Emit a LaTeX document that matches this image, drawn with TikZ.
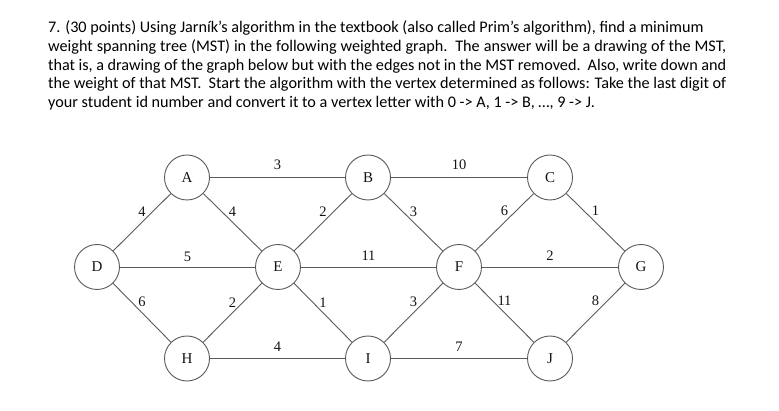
\documentclass[tikz,border=0pt]{standalone}
\usepackage{fontspec}
\setmainfont{Liberation Serif}
\newfontfamily\txtfont{Carlito}
\definecolor{edgecol}{RGB}{90,90,90}
\definecolor{txtcol}{RGB}{20,20,20}
\newcommand{\jline}[1]{\makebox[678pt][s]{#1}}
\begin{document}
\begin{tikzpicture}[x=1pt,y=-1pt,
  vtx/.style={circle,draw=edgecol,line width=0.9pt,minimum size=45pt,inner sep=0pt,font=\fontsize{15}{15}\selectfont,text=txtcol},
  edge/.style={draw=edgecol,line width=0.9pt},
  wt/.style={font=\fontsize{14.5}{14.5}\selectfont,text=txtcol,inner sep=0pt},
  txtline/.style={anchor=base west,inner sep=0pt,font=\txtfont\fontsize{16.2}{18.7}\selectfont,text=black}]
\useasboundingbox (0,0) rectangle (779,411);
\fill[white] (0,0) rectangle (779,411);
% text
\node[txtline] (t1) at (48,33) {7. (30 points) Using Jarník’s algorithm in the textbook (also called Prim’s algorithm), find a minimum};
\node[txtline] (t2) at (48,51.7) {\jline{weight spanning tree (MST) in the following weighted graph.\ \ The answer will be a drawing of the MST,}};
\node[txtline] (t3) at (48,70.3) {\jline{that is, a drawing of the graph below but with the edges not in the MST removed.\ \ Also, write down and}};
\node[txtline] (t4) at (48,89) {\jline{the weight of that MST.\ \ Start the algorithm with the vertex determined as follows: Take the last digit of}};
\node[txtline] (t5) at (48,107.7) {your student id number and convert it to a vertex letter with 0 -> A, 1 -> B, …, 9 -> J.};
% vertices
\node[vtx] (D) at (97,267) {D};
\node[vtx] (A) at (187,177.5) {A};
\node[vtx] (E) at (278,267) {E};
\node[vtx] (H) at (187,358.5) {H};
\node[vtx] (B) at (368,177.5) {B};
\node[vtx] (F) at (459,267) {F};
\node[vtx] (I) at (368,358.5) {I};
\node[vtx] (C) at (550,177.5) {C};
\node[vtx] (G) at (641,267) {G};
\node[vtx] (J) at (550,358.5) {J};
% edges
\foreach \u/\v/\w/\s in {A/B/3/12.5, B/C/10/13, D/E/5/10.5, E/F/11/11, F/G/2/11, H/I/4/11.5, I/J/7/11.5,
  D/A/4/10.5, A/E/4/10.5, E/B/2/10.5, B/F/3/10.5, F/C/6/11.5, C/G/1/11.5,
  D/H/6/10.5, H/E/2/10.5, E/I/1/10.5, I/F/3/10.5, F/J/11/12, J/G/8/12}
  \path[edge] (\u) -- node[wt,yshift=\s pt] {\w} (\v);
\end{tikzpicture}
\end{document}
